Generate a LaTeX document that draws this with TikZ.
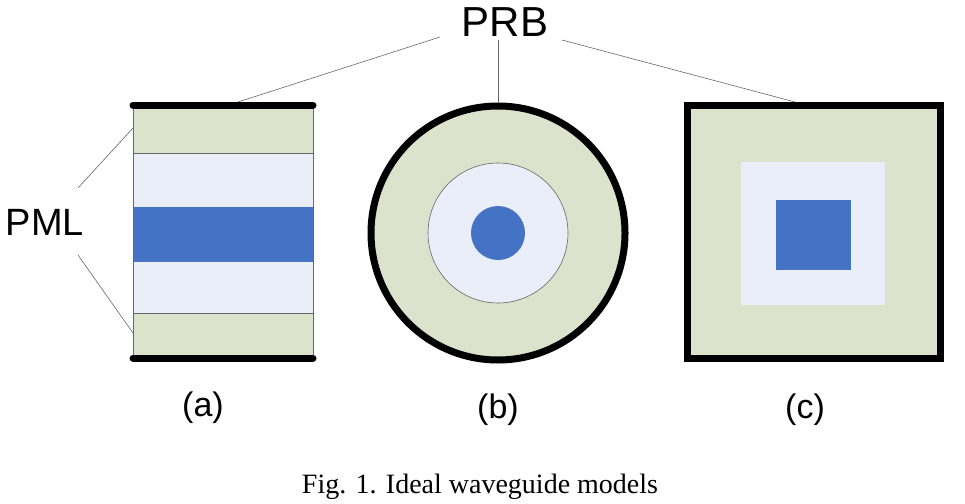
\documentclass[tikz,border=0pt]{standalone}
\usepackage{fontspec}
\setmainfont{Liberation Serif}
\newfontfamily\arialf{Liberation Sans}
\definecolor{pmlg}{RGB}{221,226,204}
\definecolor{lblue}{RGB}{233,238,248}
\definecolor{dblue}{RGB}{68,114,196}
\begin{document}
\begin{tikzpicture}[x=1pt,y=-1pt,
  lbl/.style={font=\arialf\fontsize{34}{36}\selectfont},
  thin/.style={draw=black!60,line width=0.6pt},
  prb/.style={line width=7pt}]
\useasboundingbox (0,0) rectangle (965,503);
% (a)
\fill[pmlg] (133,105) rectangle (313,358);
\fill[lblue] (133,153) rectangle (313,313);
\fill[dblue] (133,207) rectangle (313,262);
\draw[thin] (133,153) -- (313,153) (133,313) -- (313,313) (133,105) -- (133,358) (313,105) -- (313,358);
\draw[prb,line cap=round] (133,105) -- (313,105);
\draw[prb,line cap=round] (133,358) -- (313,358);
\coordinate (atop) at (238,102);
\coordinate (apml1) at (133,128);
\coordinate (apml2) at (133,333);
% (b)
\fill[pmlg] (498,233) circle (127);
\draw[prb] (498,233) circle (127);
\filldraw[fill=lblue,thin] (498,233) circle (70);
\fill[dblue] (498,233) circle (27);
\coordinate (btop) at (498,103);
% (c)
\fill[pmlg] (687,105) rectangle (940,358);
\fill[lblue] (741,162) rectangle (885,305);
\fill[dblue] (776,200) rectangle (851,270);
\draw[prb] (687,105) rectangle (940,358);
\coordinate (ctop) at (795,102);
% labels
\node[lbl,font=\arialf\fontsize{42}{44}\selectfont] (prb) at (505,22) {PRB};
\node[lbl,font=\arialf\fontsize{38}{40}\selectfont] (pml) at (45,222) {PML};
\draw[thin] (prb.south west) ++(0,-2) coordinate (p1);
\draw[thin] (440,37) -- (atop);
\draw[thin] (prb.south) ++(-7,0) -- (btop);
\draw[thin] (562,40) -- (ctop);
\draw[thin] (78,188) -- (apml1);
\draw[thin] (78,255) -- (apml2);
\node[lbl] (la) at (203,408) {(a)};
\node[lbl] (lb) at (498,410) {(b)};
\node[lbl] (lc) at (805,410) {(c)};
\node[font=\fontsize{28}{30}\selectfont] (cap) at (480,487) {Fig. 1. Ideal waveguide models};
\end{tikzpicture}
\end{document}
